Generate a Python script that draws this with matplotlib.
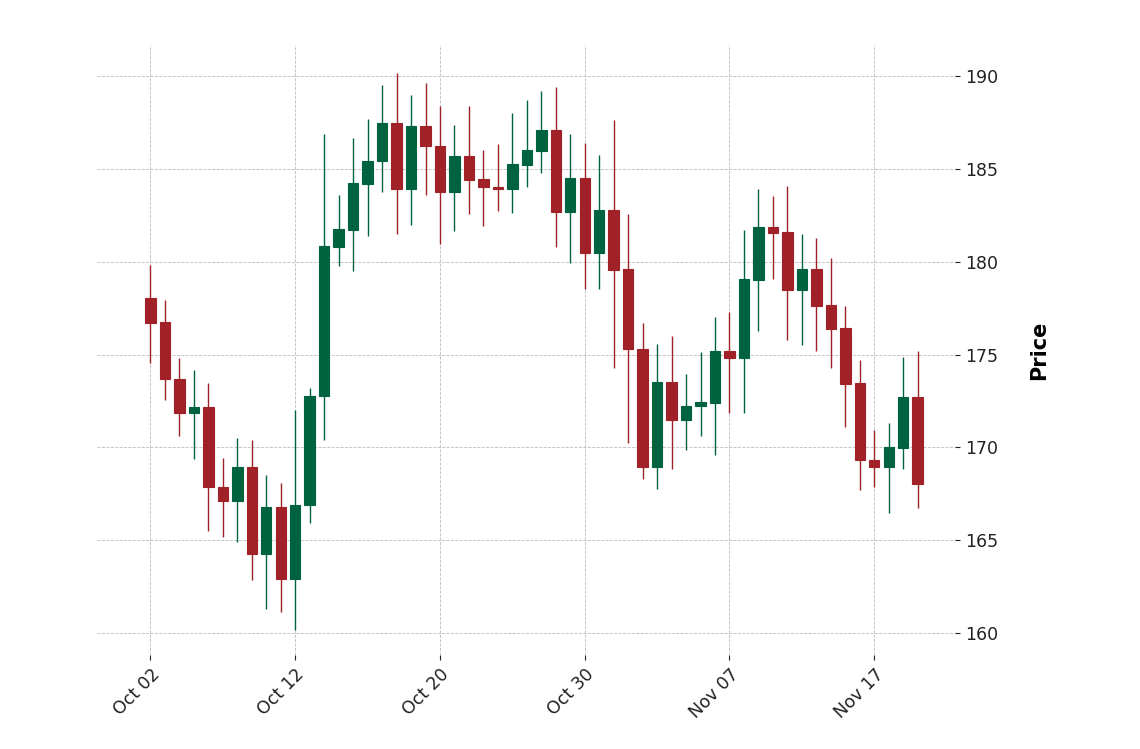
import matplotlib
matplotlib.use("Agg")
import matplotlib.pyplot as plt
from matplotlib.patches import Rectangle

opens = [178.05,176.73,173.69,171.87,172.17,167.89,167.10,168.97,164.24,166.80,162.92,166.88,172.76,180.79,181.68,184.18,185.40,187.48,
         183.91,187.32,186.25,183.77,185.68,184.44,184.02,183.91,185.23,185.96,187.08,182.68,184.52,180.47,182.80,179.61,175.31,168.92,173.53,
         171.46,172.21,172.41,175.19,174.81,179.01,181.85,181.58,178.50,179.61,177.65,176.41,173.47,169.33,168.92,169.98,172.72]
highs = [179.82,177.95,174.81,174.14,173.49,169.41,170.49,170.39,168.52,168.09,172.0,173.18,186.86,183.61,186.65,187.69,189.51,190.16,
         188.95,189.61,188.38,187.38,188.38,186.0,186.31,188.03,188.70,189.19,189.41,186.88,186.41,185.74,187.63,182.56,176.71,175.56,176.02,
         173.94,175.15,177.04,177.28,181.70,183.91,183.53,184.08,181.48,181.30,180.22,177.59,174.71,170.95,171.30,174.89,175.19]
lows = [174.54,172.56,170.59,169.37,165.52,165.15,164.91,162.88,161.32,161.16,160.14,165.92,170.39,179.78,179.51,181.40,183.77,181.50,
        181.99,183.57,180.93,181.64,182.56,181.91,182.72,182.6,184.04,184.79,180.77,179.92,178.54,178.54,174.28,170.24,168.30,167.75,168.86,
        169.84,170.59,169.61,171.84,171.84,176.27,179.05,175.76,175.52,175.19,174.28,171.10,167.71,167.89,166.47,168.86,166.73]
closes = [176.69,173.67,171.87,172.17,167.85,167.10,168.97,164.24,166.80,162.92,166.9,172.78,180.83,181.74,184.22,185.44,187.48,183.91,
          187.32,186.21,183.77,185.68,184.42,184.02,183.91,185.27,186.0,187.08,182.68,184.52,180.47,182.80,179.57,175.29,168.92,173.53,171.46,
          172.21,172.45,175.19,174.81,179.05,181.85,181.54,178.50,179.61,177.59,176.37,173.43,169.31,168.92,170.02,172.72,168.01]
tick_pos = [0, 10, 20, 30, 40, 50]
tick_labels = ["Oct 02", "Oct 12", "Oct 20", "Oct 30", "Nov 07", "Nov 17"]

UP, DOWN = "#006340", "#a02128"

fig = plt.figure(figsize=(11.4, 7.49), dpi=100)
ax = fig.add_axes([0.085, 0.125, 0.753, 0.815])
for i, (o, h, l, c) in enumerate(zip(opens, highs, lows, closes)):
    col = UP if c >= o else DOWN
    ax.vlines(i, l, h, color=col, linewidth=1.0, zorder=2)
    ax.add_patch(Rectangle((i - 0.36, min(o, c)), 0.72, max(abs(c - o), 0.12),
                           facecolor=col, edgecolor=col, linewidth=0.8, zorder=3))

ax.set_xlim(-3.7, 55.6)
ax.set_ylim(158.8, 191.67)
ax.yaxis.tick_right()
ax.yaxis.set_label_position("right")
ax.set_yticks([160, 165, 170, 175, 180, 185, 190])
ax.set_xticks(tick_pos)
ax.set_xticklabels(tick_labels, rotation=45, ha="right", rotation_mode="anchor")
ax.set_ylabel("Price", fontsize=15, fontweight="bold", labelpad=22)
ax.tick_params(labelsize=12.5, colors="#222222")
ax.grid(True, linestyle="--", linewidth=0.6, color="#bbbbbb", zorder=0)
for s in ax.spines.values():
    s.set_visible(False)
fig.savefig("out.png", dpi=100)
